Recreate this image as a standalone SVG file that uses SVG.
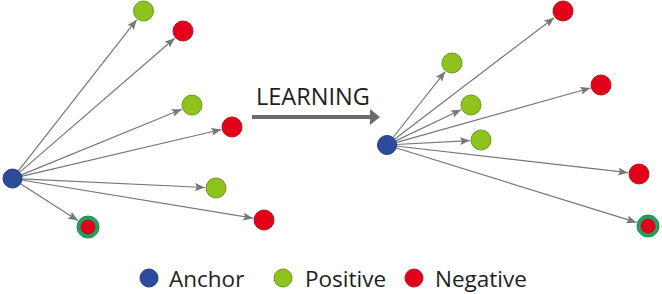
<svg xmlns="http://www.w3.org/2000/svg" width="662" height="294" viewBox="0 0 662 294">
<style>
.a{fill:#2c4b9b;stroke:#223b7d;stroke-width:1}
.p{fill:#8dc21f;stroke:#6f9a17;stroke-width:1}
.n{fill:#e2001a;stroke:#b5141f;stroke-width:1}
.ring{fill:#21a35e;stroke:#1b8a4f;stroke-width:1}
.c line{stroke:#777;stroke-width:1.2;marker-end:url(#ah)}
.t{font-family:"Open Sans","Noto Sans",sans-serif;font-size:22.5px;fill:#1e1e1e}
</style>
<defs>
<marker id="ah" markerUnits="userSpaceOnUse" viewBox="0 0 10 8" refX="10" refY="4" markerWidth="10" markerHeight="8" orient="auto">
<path d="M0,0 L10,4 L0,8 L2,4 Z" fill="#777"/>
</marker>
</defs>
<g id="connectors" class="c">
<line x1="18" y1="171.4" x2="136.7" y2="19.7"/>
<line x1="19.3" y1="172.6" x2="174.7" y2="38.2"/>
<line x1="20.8" y1="175.1" x2="181.8" y2="109.2"/>
<line x1="21.3" y1="176.4" x2="221.3" y2="129.5"/>
<line x1="21.5" y1="178.9" x2="205" y2="187.5"/>
<line x1="21.4" y1="180" x2="253.1" y2="218.2"/>
<line x1="20.1" y1="183.4" x2="77.9" y2="220.5"/>
<line x1="394.2" y1="139.5" x2="554.2" y2="17.7"/>
<line x1="392.6" y1="138" x2="445.2" y2="71.6"/>
<line x1="395.1" y1="141.1" x2="461.1" y2="109.7"/>
<line x1="395.7" y1="142.6" x2="590.4" y2="88"/>
<line x1="396" y1="144.5" x2="470" y2="140.6"/>
<line x1="396" y1="146" x2="628.1" y2="172.7"/>
<line x1="395.6" y1="147.7" x2="636.5" y2="222.4"/>
</g>
<g id="learning">
<text class="t" x="256" y="104.5" style="font-size:23.5px">LEARNING</text>
<rect x="252" y="115" width="120" height="4" fill="#6d6d6d"/>
<path d="M370,109 L380,117 L370,125 Z" fill="#6d6d6d"/>
</g>
<g id="left-anchor"><circle class="a" cx="12.5" cy="178.5" r="9.5"/></g>
<g id="left-pos1"><circle class="p" cx="143.5" cy="11" r="10"/></g>
<g id="left-neg1"><circle class="n" cx="183" cy="31" r="10"/></g>
<g id="left-pos2"><circle class="p" cx="192" cy="105" r="10"/></g>
<g id="left-neg2"><circle class="n" cx="232" cy="127" r="10"/></g>
<g id="left-pos3"><circle class="p" cx="216" cy="188" r="10"/></g>
<g id="left-neg3"><circle class="n" cx="264" cy="220" r="10"/></g>
<g id="left-neg-ring"><circle class="ring" cx="88" cy="227" r="11"/><circle class="n" cx="88" cy="227" r="7"/></g>
<g id="right-anchor"><circle class="a" cx="387" cy="145" r="9.5"/></g>
<g id="right-neg1"><circle class="n" cx="563" cy="11" r="10"/></g>
<g id="right-pos1"><circle class="p" cx="452" cy="63" r="10"/></g>
<g id="right-pos2"><circle class="p" cx="471" cy="105" r="10"/></g>
<g id="right-neg2"><circle class="n" cx="601" cy="85" r="10"/></g>
<g id="right-pos3"><circle class="p" cx="481" cy="140" r="10"/></g>
<g id="right-neg3"><circle class="n" cx="639" cy="174" r="10"/></g>
<g id="right-neg-ring"><circle class="ring" cx="648" cy="226" r="11"/><circle class="n" cx="648" cy="226" r="7"/></g>
<g id="legend">
<circle class="a" cx="149" cy="278" r="9"/>
<text class="t" x="169" y="287">Anchor</text>
<circle class="p" cx="283" cy="278" r="9"/>
<text class="t" x="305" y="287">Positive</text>
<circle class="n" cx="414" cy="278" r="9"/>
<text class="t" x="435" y="287">Negative</text>
</g>
</svg>
